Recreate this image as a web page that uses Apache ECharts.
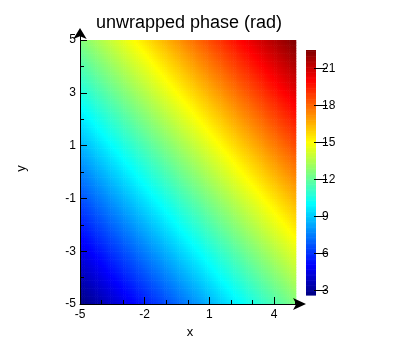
<!DOCTYPE html>
<html>
<head>
<meta charset="utf-8">
<script src="https://cdn.jsdelivr.net/npm/echarts@6/dist/echarts.min.js"></script>
<style>
html,body{margin:0;padding:0;background:#fff;}
#chart{width:396px;height:356px;}
</style>
</head>
<body>
<div id="chart"></div>
<script>
// ---- data ----
// cell centres of the sampling grid (same for x and y)
const gridCenters = [
  -4.95,-4.85,-4.75,-4.65,-4.55,-4.45,-4.35,-4.25,-4.15,-4.05,
  -3.95,-3.85,-3.75,-3.65,-3.55,-3.45,-3.35,-3.25,-3.15,-3.05,
  -2.95,-2.85,-2.75,-2.65,-2.55,-2.45,-2.35,-2.25,-2.15,-2.05,
  -1.95,-1.85,-1.75,-1.65,-1.55,-1.45,-1.35,-1.25,-1.15,-1.05,
  -0.95,-0.85,-0.75,-0.65,-0.55,-0.45,-0.35,-0.25,-0.15,-0.05,
  0.05,0.15,0.25,0.35,0.45,0.55,0.65,0.75,0.85,0.95,
  1.05,1.15,1.25,1.35,1.45,1.55,1.65,1.75,1.85,1.95,
  2.05,2.15,2.25,2.35,2.45,2.55,2.65,2.75,2.85,2.95,
  3.05,3.15,3.25,3.35,3.45,3.55,3.65,3.75,3.85,3.95,
  4.05,4.15,4.25,4.35,4.45,4.55,4.65,4.75,4.85,4.95];
// unwrapped phase along the diagonal (cell i,j takes entry i+j): the field is constant along x+y
const phaseDiag = [
  2.67,2.77,2.87,2.97,3.07,3.17,3.27,3.37,3.47,3.57,
  3.67,3.77,3.87,3.97,4.07,4.17,4.27,4.37,4.47,4.57,
  4.67,4.77,4.87,4.97,5.07,5.17,5.27,5.37,5.47,5.57,
  5.67,5.77,5.87,5.97,6.07,6.17,6.27,6.37,6.47,6.57,
  6.67,6.77,6.87,6.97,7.07,7.17,7.27,7.37,7.47,7.57,
  7.67,7.77,7.87,7.97,8.07,8.17,8.27,8.37,8.47,8.57,
  8.67,8.77,8.87,8.97,9.07,9.17,9.27,9.37,9.47,9.57,
  9.67,9.77,9.87,9.97,10.07,10.17,10.27,10.37,10.47,10.57,
  10.67,10.77,10.87,10.97,11.07,11.17,11.27,11.37,11.47,11.57,
  11.67,11.77,11.87,11.97,12.07,12.17,12.27,12.37,12.47,12.57,
  12.67,12.77,12.87,12.97,13.07,13.17,13.27,13.37,13.47,13.57,
  13.67,13.77,13.87,13.97,14.07,14.17,14.27,14.37,14.47,14.57,
  14.67,14.77,14.87,14.97,15.07,15.17,15.27,15.37,15.47,15.57,
  15.67,15.77,15.87,15.97,16.07,16.17,16.27,16.37,16.47,16.57,
  16.67,16.77,16.87,16.97,17.07,17.17,17.27,17.37,17.47,17.57,
  17.67,17.77,17.87,17.97,18.07,18.17,18.27,18.37,18.47,18.57,
  18.67,18.77,18.87,18.97,19.07,19.17,19.27,19.37,19.47,19.57,
  19.67,19.77,19.87,19.97,20.07,20.17,20.27,20.37,20.47,20.57,
  20.67,20.77,20.87,20.97,21.07,21.17,21.27,21.37,21.47,21.57,
  21.67,21.77,21.87,21.97,22.07,22.17,22.27,22.37,22.47];
const colorMin = 2.57, colorMax = 22.57;
const xTickLabels = [-5,-2,1,4];
const xMinorTicks = [-4,-3,-1,0,2,3,5];
const yTickLabels = [-5,-3,-1,1,3,5];
const yMinorTicks = [-4,-2,0,2,4];
const cbTickLabels = [3,6,9,12,15,18,21];
const jet = ['#00007f','#0000ff','#007fff','#00ffff','#7fff7f','#ffff00','#ff7f00','#ff0000','#7f0000'];

// ---- build ----
const cells = [];
for (let j = 0; j < gridCenters.length; j++) {
  for (let i = 0; i < gridCenters.length; i++) {
    cells.push([gridCenters[i], gridCenters[j], phaseDiag[i + j]]);
  }
}
const half = (gridCenters[1] - gridCenters[0]) / 2;
const cbHalf = (phaseDiag[1] - phaseDiag[0]) / 2;
const cbData = phaseDiag.map(v => [0.5, v, v]);

const FONT = 'Liberation Sans, Arial, sans-serif';
const chart = echarts.init(document.getElementById('chart'), null, {renderer: 'canvas'});

chart.setOption({
  animation: false,
  backgroundColor: '#fff',
  title: {
    text: 'unwrapped phase (rad)',
    left: 91, top: 9,
    textStyle: {fontSize: 18, fontWeight: 'normal', color: '#000', fontFamily: FONT}
  },
  grid: [
    {left: 80, top: 33, width: 220, height: 271},
    {left: 306, top: 50, width: 10, height: 245}
  ],
  visualMap: {
    type: 'continuous', show: false, min: colorMin, max: colorMax,
    dimension: 2, seriesIndex: [0, 1],
    inRange: {color: jet}
  },
  xAxis: [
    {
      type: 'value', gridIndex: 0, min: -5, max: 5.2, position: 'bottom', z: 10,
      name: 'x', nameLocation: 'middle', nameGap: 21,
      nameTextStyle: {fontSize: 13, color: '#000', fontFamily: FONT},
      axisLine: {show: true, onZero: false, symbol: ['none', 'arrow'], symbolSize: [9, 13], symbolOffset: [0, 6],
        lineStyle: {color: '#000', width: 1}},
      axisTick: {show: true, inside: true, length: 7, customValues: xTickLabels, lineStyle: {color: '#000'}},
      axisLabel: {show: true, customValues: xTickLabels, margin: 5, fontSize: 12, color: '#000', fontFamily: FONT},
      splitLine: {show: false}
    },
    {
      type: 'value', gridIndex: 0, min: -5, max: 5.2, position: 'bottom', z: 10,
      axisLine: {show: false, onZero: false},
      axisTick: {show: true, inside: true, length: 4, customValues: xMinorTicks, lineStyle: {color: '#000'}},
      axisLabel: {show: false},
      splitLine: {show: false}
    },
    {
      type: 'value', gridIndex: 1, min: 0, max: 1, show: false
    }
  ],
  yAxis: [
    {
      type: 'value', gridIndex: 0, min: -5, max: 5.265, position: 'left', z: 10,
      name: 'y', nameLocation: 'middle', nameGap: 52, nameRotate: 90,
      nameTextStyle: {fontSize: 13, color: '#000', fontFamily: FONT},
      axisLine: {show: true, onZero: false, symbol: ['none', 'arrow'], symbolSize: [10, 11], symbolOffset: [0, 5],
        lineStyle: {color: '#000', width: 1}},
      axisTick: {show: true, inside: true, length: 7, customValues: yTickLabels, lineStyle: {color: '#000'}},
      axisLabel: {show: true, customValues: yTickLabels, margin: 4, fontSize: 12, color: '#000', fontFamily: FONT},
      splitLine: {show: false}
    },
    {
      type: 'value', gridIndex: 0, min: -5, max: 5.265, position: 'left', z: 10,
      axisLine: {show: false, onZero: false},
      axisTick: {show: true, inside: true, length: 4, customValues: yMinorTicks, lineStyle: {color: '#000'}},
      axisLabel: {show: false},
      splitLine: {show: false}
    },
    {
      type: 'value', gridIndex: 1, position: 'right', z: 10, offset: -8,
      min: phaseDiag[0] - cbHalf, max: phaseDiag[phaseDiag.length - 1] + cbHalf,
      axisLine: {show: false},
      axisTick: {show: true, inside: false, length: 13, customValues: cbTickLabels, lineStyle: {color: '#000'}},
      axisLabel: {show: true, customValues: cbTickLabels, margin: 14, fontSize: 12, color: '#000', fontFamily: FONT},
      splitLine: {show: false}
    }
  ],
  series: [
    {
      type: 'custom', xAxisIndex: 0, yAxisIndex: 0, data: cells, z: 2,
      progressive: 0,
      renderItem: function (params, api) {
        const x = api.value(0), y = api.value(1);
        const p0 = api.coord([x - half, y + half]);
        const p1 = api.coord([x + half, y - half]);
        return {type: 'rect', silent: true,
          shape: {x: p0[0], y: p0[1], width: p1[0] - p0[0] + 0.6, height: p1[1] - p0[1] + 0.6},
          style: {fill: api.visual('color')}};
      }
    },
    {
      type: 'custom', xAxisIndex: 2, yAxisIndex: 2, data: cbData, z: 2,
      progressive: 0,
      renderItem: function (params, api) {
        const v = api.value(1);
        const p0 = api.coord([0, v + cbHalf]);
        const p1 = api.coord([1, v - cbHalf]);
        return {type: 'rect', silent: true,
          shape: {x: p0[0], y: p0[1], width: p1[0] - p0[0], height: p1[1] - p0[1] + 0.6},
          style: {fill: api.visual('color')}};
      }
    }
  ]
});
</script>
</body>
</html>
